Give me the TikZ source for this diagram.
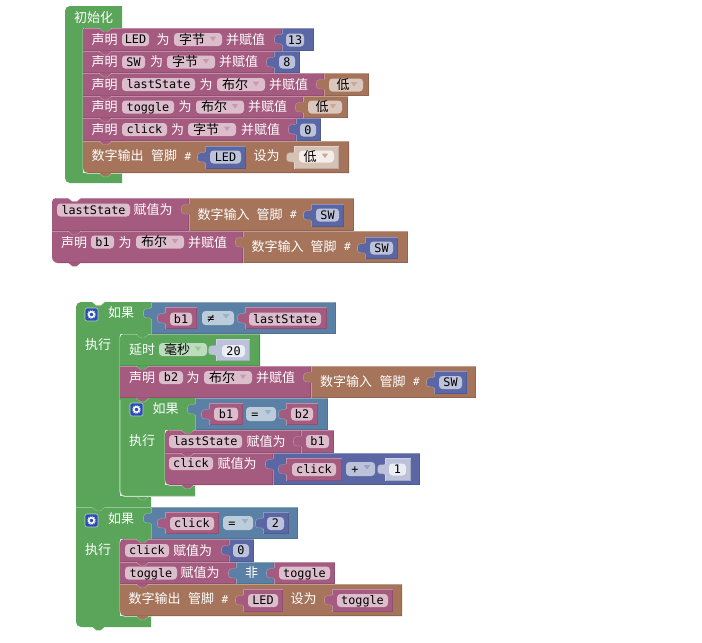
\documentclass[tikz,border=0pt]{standalone}
\usepackage{fontspec}
\newfontfamily\cjf{Noto Sans CJK SC}
\newfontfamily\mnf{DejaVu Sans Mono}
\definecolor{pu}{HTML}{A55B80}
\definecolor{nv}{HTML}{5B67A5}
\definecolor{br}{HTML}{A5745B}
\definecolor{bl}{HTML}{5B80A5}
\definecolor{gr}{HTML}{5BA55B}
\definecolor{gear}{HTML}{2A4BB8}
\newcounter{nn}
\tikzset{
  cjtext/.style={inner sep=0pt,anchor=base,text=white,font=\cjf\fontsize{13}{14}\selectfont},
  cjdark/.style={inner sep=0pt,anchor=base,text=black,font=\cjf\fontsize{13}{14}\selectfont},
  mntext/.style={inner sep=0pt,anchor=base,text=black,font=\mnf\fontsize{11.8}{14}\selectfont},
  hash/.style={inner sep=0pt,anchor=base,text=white,font=\mnf\fontsize{11}{14}\selectfont}
}
% block: x1 y1 x2 y2 colour tl-radius bl-radius
\newcommand\blk[7]{%
  \fill[#5] (#3,#2) [rounded corners=#6pt] -- (#1,#2) [rounded corners=#7pt] -- (#1,#4) [sharp corners] -- (#3,#4) -- cycle;
  \draw[#5!88!black,line width=.6pt] (#3-.3,#2) -- (#3-.3,#4-.3) -- (#1+#7,#4-.3);
  \draw[#5!70!white,line width=.6pt] (#3,#2+.3) -- (#1+#6,#2+.3);
}
% value block with its tab
\newcommand\vblk[5]{%
  \blk{#1}{#2}{#3}{#4}{#5}{0}{0}%
  \draw[#5!70!white,line width=.5pt] (#1,#2+.3) -- (#1,#4);
  \draw[white,opacity=.28,line width=.9pt] (#1+.5,#2+6) .. controls (#1-2,#2+9) and (#1-7.4,#2+3.5) .. (#1-7.4,#2+11.5) .. controls (#1-7.4,#2+19) and (#1-2,#2+13) .. (#1+.5,#2+17);
  \fill[#5] (#1+.8,#2+6) .. controls (#1-2,#2+9) and (#1-7,#2+3.5) .. (#1-7,#2+11.5) .. controls (#1-7,#2+19) and (#1-2,#2+13) .. (#1+.8,#2+17) -- cycle;
}
% notch: x y upper-colour
\newcommand\ntc[3]{%
  \fill[#3] (#1+16,#2-.4) -- (#1+20.5,#2+3.4) -- (#1+24.5,#2+3.4) -- (#1+29,#2-.4) -- cycle;
  \draw[white,opacity=.25,line width=.6pt] (#1+16,#2+.2) -- (#1+20.5,#2+3.8) -- (#1+24.5,#2+3.8) -- (#1+29,#2+.2);
}
% white label: x1 x2 ycentre text
\newcommand\lb[4]{\stepcounter{nn}\node[cjtext] (n\arabic{nn}) at ({(#1+#2)/2},#3+5.3) {#4};}
\newcommand\hs[2]{\stepcounter{nn}\node[hash] (n\arabic{nn}) at (#1,#2+4) {\#};}
% pill: x1 x2 ycentre colour text
\newcommand\pill[5]{%
  \fill[#4!40!white,rounded corners=3.5pt] (#1,#3-6.5) rectangle (#2,#3+6.5);
  \stepcounter{nn}\node[mntext] (n\arabic{nn}) at ({(#1+#2)/2},#3+4) {#5};
}
% paler pill for shadow blocks
\newcommand\wpill[5]{%
  \fill[#4!12!white,rounded corners=3.5pt] (#1,#3-6) rectangle (#2,#3+6);
  \stepcounter{nn}\node[mntext] (n\arabic{nn}) at ({(#1+#2)/2},#3+4) {#5};
}
\newcommand\tri[3]{\fill[#3!62!white] (#1-3.2,#2-2) -- (#1+3.2,#2-2) -- (#1,#2+2.6) -- cycle;}
% dropdown with Chinese text: x1 x2 ycentre colour text
\newcommand\dd[5]{%
  \fill[#4!40!white,rounded corners=3.5pt] (#1,#3-6.5) rectangle (#2,#3+6.5);
  \stepcounter{nn}\node[cjdark] (n\arabic{nn}) at (#1+18,#3+4.8) {#5};
  \tri{#2-9}{#3-1}{#4}%
}
% dropdown with a symbol
\newcommand\ds[5]{%
  \fill[#4!40!white,rounded corners=3.5pt] (#1,#3-7) rectangle (#2,#3+7);
  \stepcounter{nn}\node[mntext] (n\arabic{nn}) at (#1+9,#3+4) {#5};
  \tri{#2-8}{#3-2}{#4}%
}
\newcommand\gearicon[2]{%
  \fill[gear,draw=gr!45!white,line width=.6pt,rounded corners=2pt] (#1,#2) rectangle (#1+13,#2+13);
  \draw[white,line width=1.3pt,dash pattern=on 1.1pt off .75pt] (#1+6.5,#2+6.5) circle[radius=3.6];
  \draw[white,line width=1.3pt] (#1+6.5,#2+6.5) circle[radius=2.6];
}
\begin{document}
\begin{tikzpicture}[x=1pt,y=-1pt]
\useasboundingbox (0,0) rectangle (702,643);
\fill[white] (0,0) rectangle (702,643);

%%% ------- init -------
\fill[gr] (122,6) [rounded corners=5pt] -- (65,6) -- (65,183) [sharp corners] -- (122,183) -- (122,173) -- (83,173) -- (83,28) -- (122,28) -- cycle;
\lb{74}{113}{17}{初始化}
\draw[gr!35!white,line width=.9pt,rounded corners=5pt] (83,30) -- (83,173.4) -- (122,173.4);

\blk{83}{28}{282}{51}{pu}{2}{0}
\blk{83}{51}{274}{73}{pu}{0}{0}
\blk{83}{73}{324}{96}{pu}{0}{0}
\blk{83}{96}{303}{118}{pu}{0}{0}
\blk{83}{118}{296}{141}{pu}{0}{0}
\blk{83}{141}{349}{173}{br}{0}{5}
\ntc{83}{28}{gr}\ntc{83}{51}{pu}\ntc{83}{73}{pu}\ntc{83}{96}{pu}\ntc{83}{118}{pu}\ntc{83}{141}{pu}
\ntc{83}{173}{br}

\lb{92}{117}{39}{声明}\pill{122}{149}{39.5}{pu}{LED}\lb{157}{169}{39}{为}\dd{174}{222}{39.5}{pu}{字节}\lb{226}{265}{39}{并赋值}
\vblk{282}{28}{314}{51}{nv}\pill{286}{304}{40}{nv}{13}
\lb{92}{117}{61}{声明}\pill{122}{145}{62}{pu}{SW}\lb{150}{163}{61}{为}\dd{167}{215}{62}{pu}{字节}\lb{219}{258}{61}{并赋值}
\vblk{274}{51}{300}{73}{nv}\pill{279}{295}{62}{nv}{8}
\lb{92}{117}{84}{声明}\pill{122}{195}{84.5}{pu}{lastState}\lb{200}{212}{84}{为}\dd{217}{265}{84.5}{pu}{布尔}\lb{269}{308}{84}{并赋值}
\vblk{324}{73}{369}{96}{br}\dd{329}{363}{85}{br}{\kern-8pt 低}
\lb{92}{117}{106}{声明}\pill{122}{174}{107}{pu}{toggle}\lb{179}{191}{106}{为}\dd{196}{244}{107}{pu}{布尔}\lb{248}{287}{106}{并赋值}
\vblk{303}{96}{348}{118}{br}\dd{308}{342}{107}{br}{\kern-8pt 低}
\lb{92}{117}{129}{声明}\pill{122}{167}{129.5}{pu}{click}\lb{171}{184}{129}{为}\dd{188}{236}{129.5}{pu}{字节}\lb{241}{280}{129}{并赋值}
\vblk{296}{118}{321}{141}{nv}\pill{300}{316}{130}{nv}{0}
\lb{92}{143}{155}{数字输出}\lb{151}{177}{155}{管脚}\hs{188}{156}
\vblk{205}{146}{246}{169}{nv}\pill{210}{241}{157}{nv}{LED}
\lb{254}{279}{155}{设为}
\vblk{294}{146}{339}{169}{br!45!white}
\fill[br!12!white,rounded corners=3.5pt] (299,150.5) rectangle (334,162.5);
\stepcounter{nn}\node[cjdark] (n\arabic{nn}) at (310,161) {低};
\tri{325}{155.5}{br}

%%% ------- loose statements -------
\blk{52}{198}{189}{231}{pu}{4}{0}
\vblk{189}{198}{354}{231}{br}
\blk{52}{231}{243}{263}{pu}{0}{6}
\vblk{243}{231}{408}{263}{br}
\ntc{52}{198}{white}
\ntc{52}{231}{pu}
\ntc{52}{263}{pu}
\pill{57}{130}{210}{pu}{lastState}\lb{134}{172}{209.5}{赋值为}
\lb{198}{249}{214}{数字输入}\lb{257}{282}{214}{管脚}\hs{293.5}{214}
\vblk{311}{204}{344}{227}{nv}\pill{316}{339}{215}{nv}{SW}
\lb{61}{87}{242}{声明}\pill{91}{114}{242}{pu}{b1}\lb{119}{131}{242}{为}\dd{136}{184}{242}{pu}{布尔}\lb{188}{227}{242}{并赋值}
\lb{252}{303}{246}{数字输入}\lb{311}{336}{246}{管脚}\hs{347.5}{246}
\vblk{365}{237}{398}{259}{nv}\pill{370}{393}{248}{nv}{SW}

%%% ------- outer if, as one green frame -------
\fill[gr] (151,302) [rounded corners=5pt] -- (76,302) -- (76,627) [sharp corners] -- (151,627) -- (151,616) -- (120,616) -- (120,539) -- (151,539) -- (151,496) -- (120,496) -- (120,334) -- (151,334) -- cycle;
\ntc{76}{302}{white}
\ntc{76}{627}{gr}
\draw[gr!35!white,line width=.9pt,rounded corners=5pt] (120,336) -- (120,496.4) -- (151,496.4);
\draw[gr!35!white,line width=.9pt,rounded corners=5pt] (120,541) -- (120,616.4) -- (151,616.4);
\ntc{76}{507}{gr}
\draw[gr!65!white,line width=.6pt] (76,507.3) -- (92,507.3);
\draw[gr!65!white,line width=.6pt] (105,507.3) -- (151,507.3);
\gearicon{85}{308}\lb{108}{134}{312}{如果}
\lb{85}{111}{344}{执行}
\vblk{151}{302}{336}{334}{bl}
\vblk{165}{307}{197}{329}{pu}\pill{170}{192}{319}{pu}{b1}
\ds{202}{234}{318}{bl}{≠}
\vblk{245}{307}{327}{329}{pu}\pill{249}{321}{319}{pu}{lastState}

% delay
\blk{120}{334}{260}{366}{gr}{4}{0}
\ntc{120}{334}{gr}
\lb{129}{155}{349}{延时}\dd{159}{207}{349.5}{gr}{毫秒}
\vblk{216}{339}{250}{361}{nv!40!white}
\wpill{222}{245}{351}{nv}{20}
% declare b2
\blk{120}{366}{311}{398}{pu}{0}{0}
\vblk{311}{366}{476}{398}{br}
\ntc{120}{366}{gr}
\lb{129}{155}{377}{声明}\pill{159}{183}{377.5}{pu}{b2}\lb{187}{199}{377}{为}\dd{204}{252}{377.5}{pu}{布尔}\lb{256}{295}{377}{并赋值}
\lb{320}{372}{381}{数字输入}\lb{380}{405}{381}{管脚}\hs{416.5}{381}
\vblk{434}{371}{467}{394}{nv}\pill{439}{462}{382.5}{nv}{SW}
% inner if
\fill[gr] (195,398) -- (120,398) [rounded corners=5pt] -- (120,496) [sharp corners] -- (195,496) -- (195,485) -- (165,485) -- (165,430) -- (195,430) -- cycle;
\ntc{120}{398}{pu}
\ntc{120}{496}{gr}
\draw[gr!35!white,line width=.9pt,rounded corners=5pt] (120,400) -- (120,496.4) -- (195,496.4);
\draw[gr!35!white,line width=.9pt,rounded corners=5pt] (165,432) -- (165,485.4) -- (195,485.4);
\gearicon{130}{403}\lb{153}{178}{408}{如果}
\lb{129}{155}{440}{执行}
\vblk{195}{398}{328}{430}{bl}
\vblk{209}{403}{243}{425}{pu}\pill{214}{238}{414}{pu}{b1}
\ds{246}{276}{414}{bl}{=}
\vblk{286}{403}{318}{425}{pu}\pill{291}{313}{414}{pu}{b2}
% inner statements
\blk{165}{430}{301}{453}{pu}{4}{0}
\vblk{301}{430}{334}{453}{pu}\pill{306}{329}{441.5}{pu}{b1}
\ntc{165}{430}{gr}
\pill{169}{242}{441.5}{pu}{lastState}\lb{247}{285}{441}{赋值为}
\blk{165}{453}{273}{485}{pu}{0}{5}
\vblk{273}{453}{420}{485}{nv}
\ntc{165}{453}{pu}
\ntc{165}{485}{pu}
\pill{169}{213}{463.5}{pu}{click}\lb{218}{256}{463}{赋值为}
\vblk{286}{458}{342}{481}{pu}\pill{292}{336}{469.5}{pu}{click}
\ds{346}{375}{469}{nv}{+}
\vblk{385}{458}{411}{481}{nv!40!white}
\wpill{389}{406}{469.5}{nv}{1}

%%% ------- second if -------
\gearicon{85}{514}\lb{108}{134}{518}{如果}
\lb{85}{111}{549}{执行}
\vblk{151}{507}{298}{539}{bl}
\vblk{165}{512}{219}{534}{pu}\pill{170}{214}{523.5}{pu}{click}
\ds{223}{253}{523}{bl}{=}
\vblk{263}{512}{289}{534}{nv}\pill{267}{284}{523.5}{nv}{2}

\blk{120}{539}{229}{562}{pu}{4}{0}
\vblk{229}{539}{254}{562}{nv}\pill{233}{249}{550.5}{nv}{0}
\ntc{120}{539}{gr}
\pill{125}{169}{550.5}{pu}{click}\lb{173}{212}{550}{赋值为}
\blk{120}{562}{236}{584}{pu}{0}{0}
\vblk{236}{562}{274}{584}{bl}
\vblk{274}{562}{335}{584}{pu}
\ntc{120}{562}{pu}
\pill{125}{177}{573}{pu}{toggle}\lb{181}{219}{572.5}{赋值为}
\lb{245}{258}{572.5}{非}\pill{279}{330}{573}{pu}{toggle}
\blk{120}{584}{402}{616}{br}{0}{5}
\ntc{120}{584}{pu}
\ntc{120}{616}{br}
\lb{129}{180}{598}{数字输出}\lb{188}{214}{598}{管脚}\hs{225}{599}
\vblk{243}{589}{283}{612}{pu}\pill{248}{278}{600.5}{pu}{LED}
\lb{291}{316}{598}{设为}
\vblk{332}{589}{393}{612}{pu}\pill{337}{388}{600.5}{pu}{toggle}
\end{tikzpicture}
\end{document}
